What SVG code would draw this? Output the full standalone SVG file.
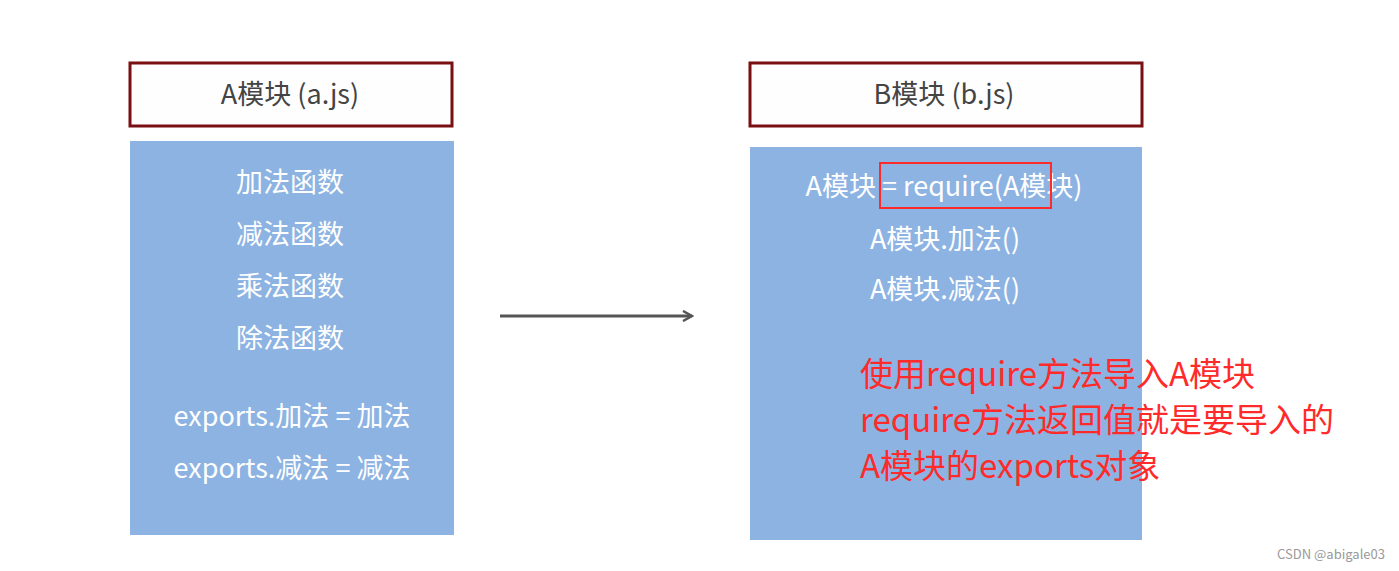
<svg xmlns="http://www.w3.org/2000/svg" width="1399" height="571" viewBox="0 0 1399 571">
<defs>
<style>
.hdr{fill:#fefefe;stroke:#7a0f12;stroke-width:3}
.body{fill:#8db3e2}
.t{font-family:"Noto Sans CJK SC","Noto Sans",sans-serif;font-size:27px;fill:#fff;text-anchor:middle}
.h{font-family:"Noto Sans CJK SC","Noto Sans",sans-serif;font-size:27px;fill:#444;text-anchor:middle}
.r{font-family:"Noto Sans CJK SC","Noto Sans",sans-serif;font-size:33px;fill:#ff2a2a}
</style>
<marker id="ah" markerWidth="12" markerHeight="12" refX="10" refY="6" orient="auto" markerUnits="userSpaceOnUse"><path d="M1,1 L10,6 L1,11" fill="none" stroke="#555" stroke-width="2.5"/></marker>
</defs>
<rect width="1399" height="571" fill="#fff"/>
<g id="a-header"><rect class="hdr" x="130" y="63" width="322" height="63"/><text class="h" x="290" y="104">A模块 (a.js)</text></g>
<g id="a-body"><rect class="body" x="130" y="141" width="324" height="394"/>
<text class="t" x="290" y="192">加法函数</text>
<text class="t" x="290" y="244">减法函数</text>
<text class="t" x="290" y="296">乘法函数</text>
<text class="t" x="290" y="348">除法函数</text>
<text class="t" x="292" y="426">exports.加法 = 加法</text>
<text class="t" x="292" y="478">exports.减法 = 减法</text></g>
<g id="b-header"><rect class="hdr" x="750" y="63" width="392" height="63"/><text class="h" x="944" y="104">B模块 (b.js)</text></g>
<g id="b-body"><rect class="body" x="750" y="147" width="392" height="393"/>
<text class="t" x="944" y="196">A模块 = require(A模块)</text>
<text class="t" x="945" y="249">A模块.加法()</text>
<text class="t" x="945" y="299">A模块.减法()</text>
<rect x="880" y="163" width="171" height="45" fill="none" stroke="#ff2a2a" stroke-width="2"/></g>
<g id="note"><text class="r" x="860" y="386">使用require方法导入A模块</text>
<text class="r" x="860" y="432">require方法返回值就是要导入的</text>
<text class="r" x="860" y="478">A模块的exports对象</text></g>
<g id="connectors"><line x1="500" y1="316" x2="692" y2="316" stroke="#555" stroke-width="3" marker-end="url(#ah)"/></g>
<text x="1385" y="559" font-family="Noto Sans CJK SC,sans-serif" font-size="13" fill="#999" text-anchor="end">CSDN @abigale03</text>
</svg>
